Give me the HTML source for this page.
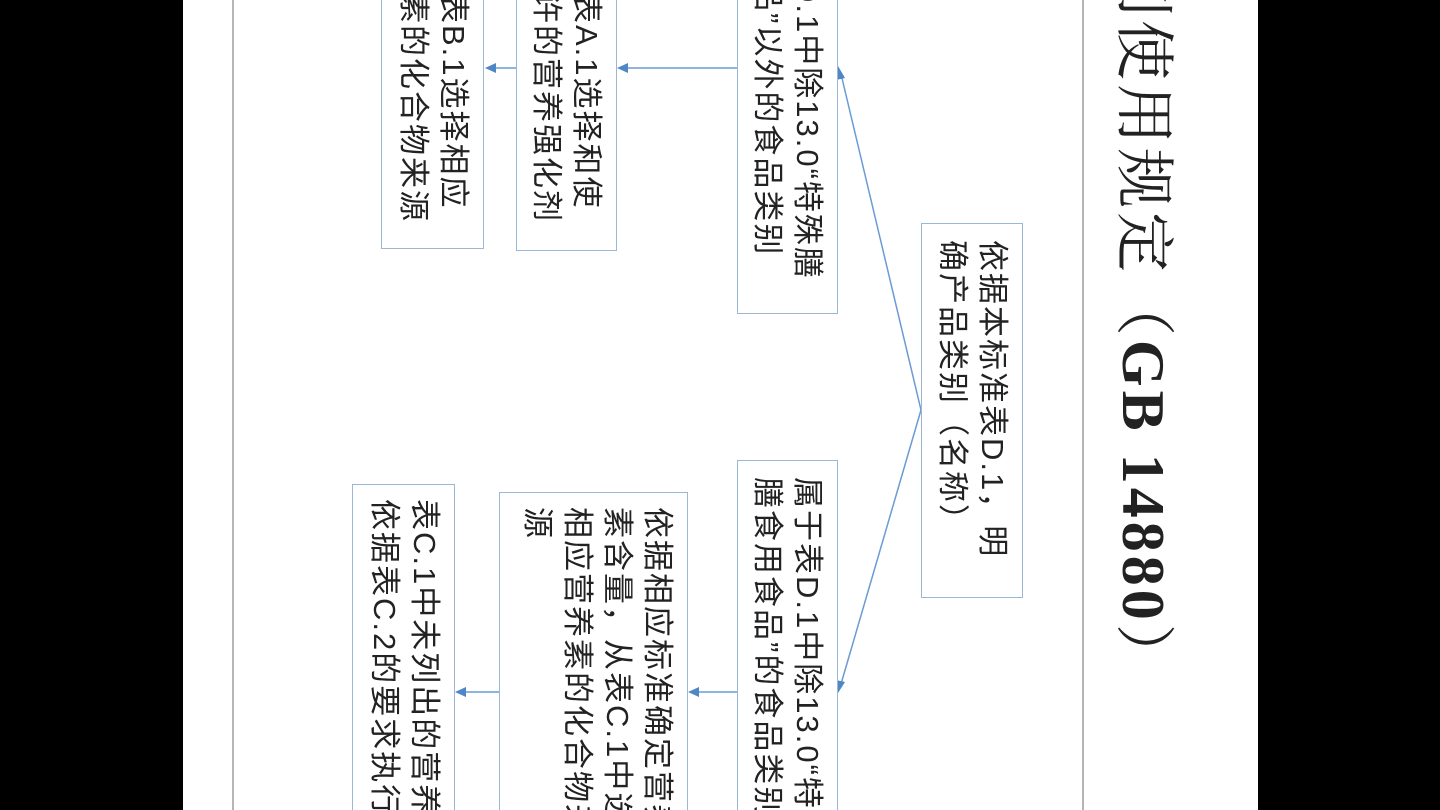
<!DOCTYPE html>
<html><head><meta charset="utf-8"><style>
html{margin:0;padding:0;width:1440px;height:810px;overflow:hidden}
body{margin:0;padding:0;width:1440px;height:810px;background:#000;position:relative;overflow:hidden}
.page{position:absolute;left:183px;top:0;width:1075px;height:810px;background:#fff}
.v{position:absolute;writing-mode:vertical-rl;text-orientation:sideways;font-family:"Liberation Serif","Noto Serif CJK SC",serif;color:#222;white-space:nowrap}
.box{position:absolute;border:1.5px solid #9ab8d6;background:#fff;box-sizing:border-box;writing-mode:vertical-rl;text-orientation:sideways;font-family:"Liberation Sans","Noto Sans CJK SC",sans-serif;color:#222;font-size:31px;line-height:40px;letter-spacing:2px;padding:10px 10px 0 0;white-space:nowrap}
.title{font-size:60px;line-height:70px;letter-spacing:4px}
</style></head><body>
<div class="page"></div>
<div style="position:absolute;left:232px;top:0;width:1.5px;height:810px;background:#b5b5b5"></div>
<div style="position:absolute;left:1082px;top:0;width:2px;height:810px;background:#b5b5b5"></div>
<div class="v title" style="left:1108px;top:-300px;height:1000px;">营养强化剂使用规定（<b>GB 14880</b>）</div>

<svg width="1440" height="810" style="position:absolute;left:0;top:0">
<g stroke="#6a9bd2" stroke-width="1.5" fill="none">
<line x1="921" y1="410" x2="841" y2="74"/>
<line x1="921" y1="410" x2="841" y2="684"/>
<line x1="737" y1="68" x2="626" y2="68"/>
<line x1="516" y1="68" x2="493" y2="68"/>
<line x1="737" y1="692" x2="697" y2="692"/>
<line x1="499" y1="692" x2="464" y2="692"/>
</g>
<g fill="#4f86c6">
<polygon points="838,66 836,80 845,78"/>
<polygon points="838,693 836,680 845,682"/>
<polygon points="617,68 628,63 628,73"/>
<polygon points="485,68 496,63 496,73"/>
<polygon points="688,692 699,687 699,697"/>
<polygon points="455,692 466,687 466,697"/>
</g>
</svg>

<div class="box" style="left:921px;top:223px;width:102px;height:375px;padding-top:16px">依据本标准表D.1，明<br>确产品类别（名称）</div>
<div class="box" style="left:737px;top:-130px;width:101px;height:444px">属于表D.1中除13.0“特殊膳<br>食用食品”以外的食品类别</div>
<div class="box" style="left:516px;top:-85px;width:101px;height:336px">依据表A.1选择和使<br>用允许的营养强化剂</div>
<div class="box" style="left:381px;top:-85px;width:103px;height:334px">依据表B.1选择相应<br>营养素的化合物来源</div>
<div class="box" style="left:737px;top:460px;width:101px;height:360px;padding-top:16px">属于表D.1中除13.0“特殊<br>膳食用食品”的食品类别</div>
<div class="box" style="left:499px;top:492px;width:189px;height:330px;padding-top:14px">依据相应标准确定营养<br>素含量，从表C.1中选择<br>相应营养素的化合物来<br>源</div>
<div class="box" style="left:352px;top:484px;width:103px;height:340px;padding-top:14px">表C.1中未列出的营养素<br>依据表C.2的要求执行</div>
</body></html>
